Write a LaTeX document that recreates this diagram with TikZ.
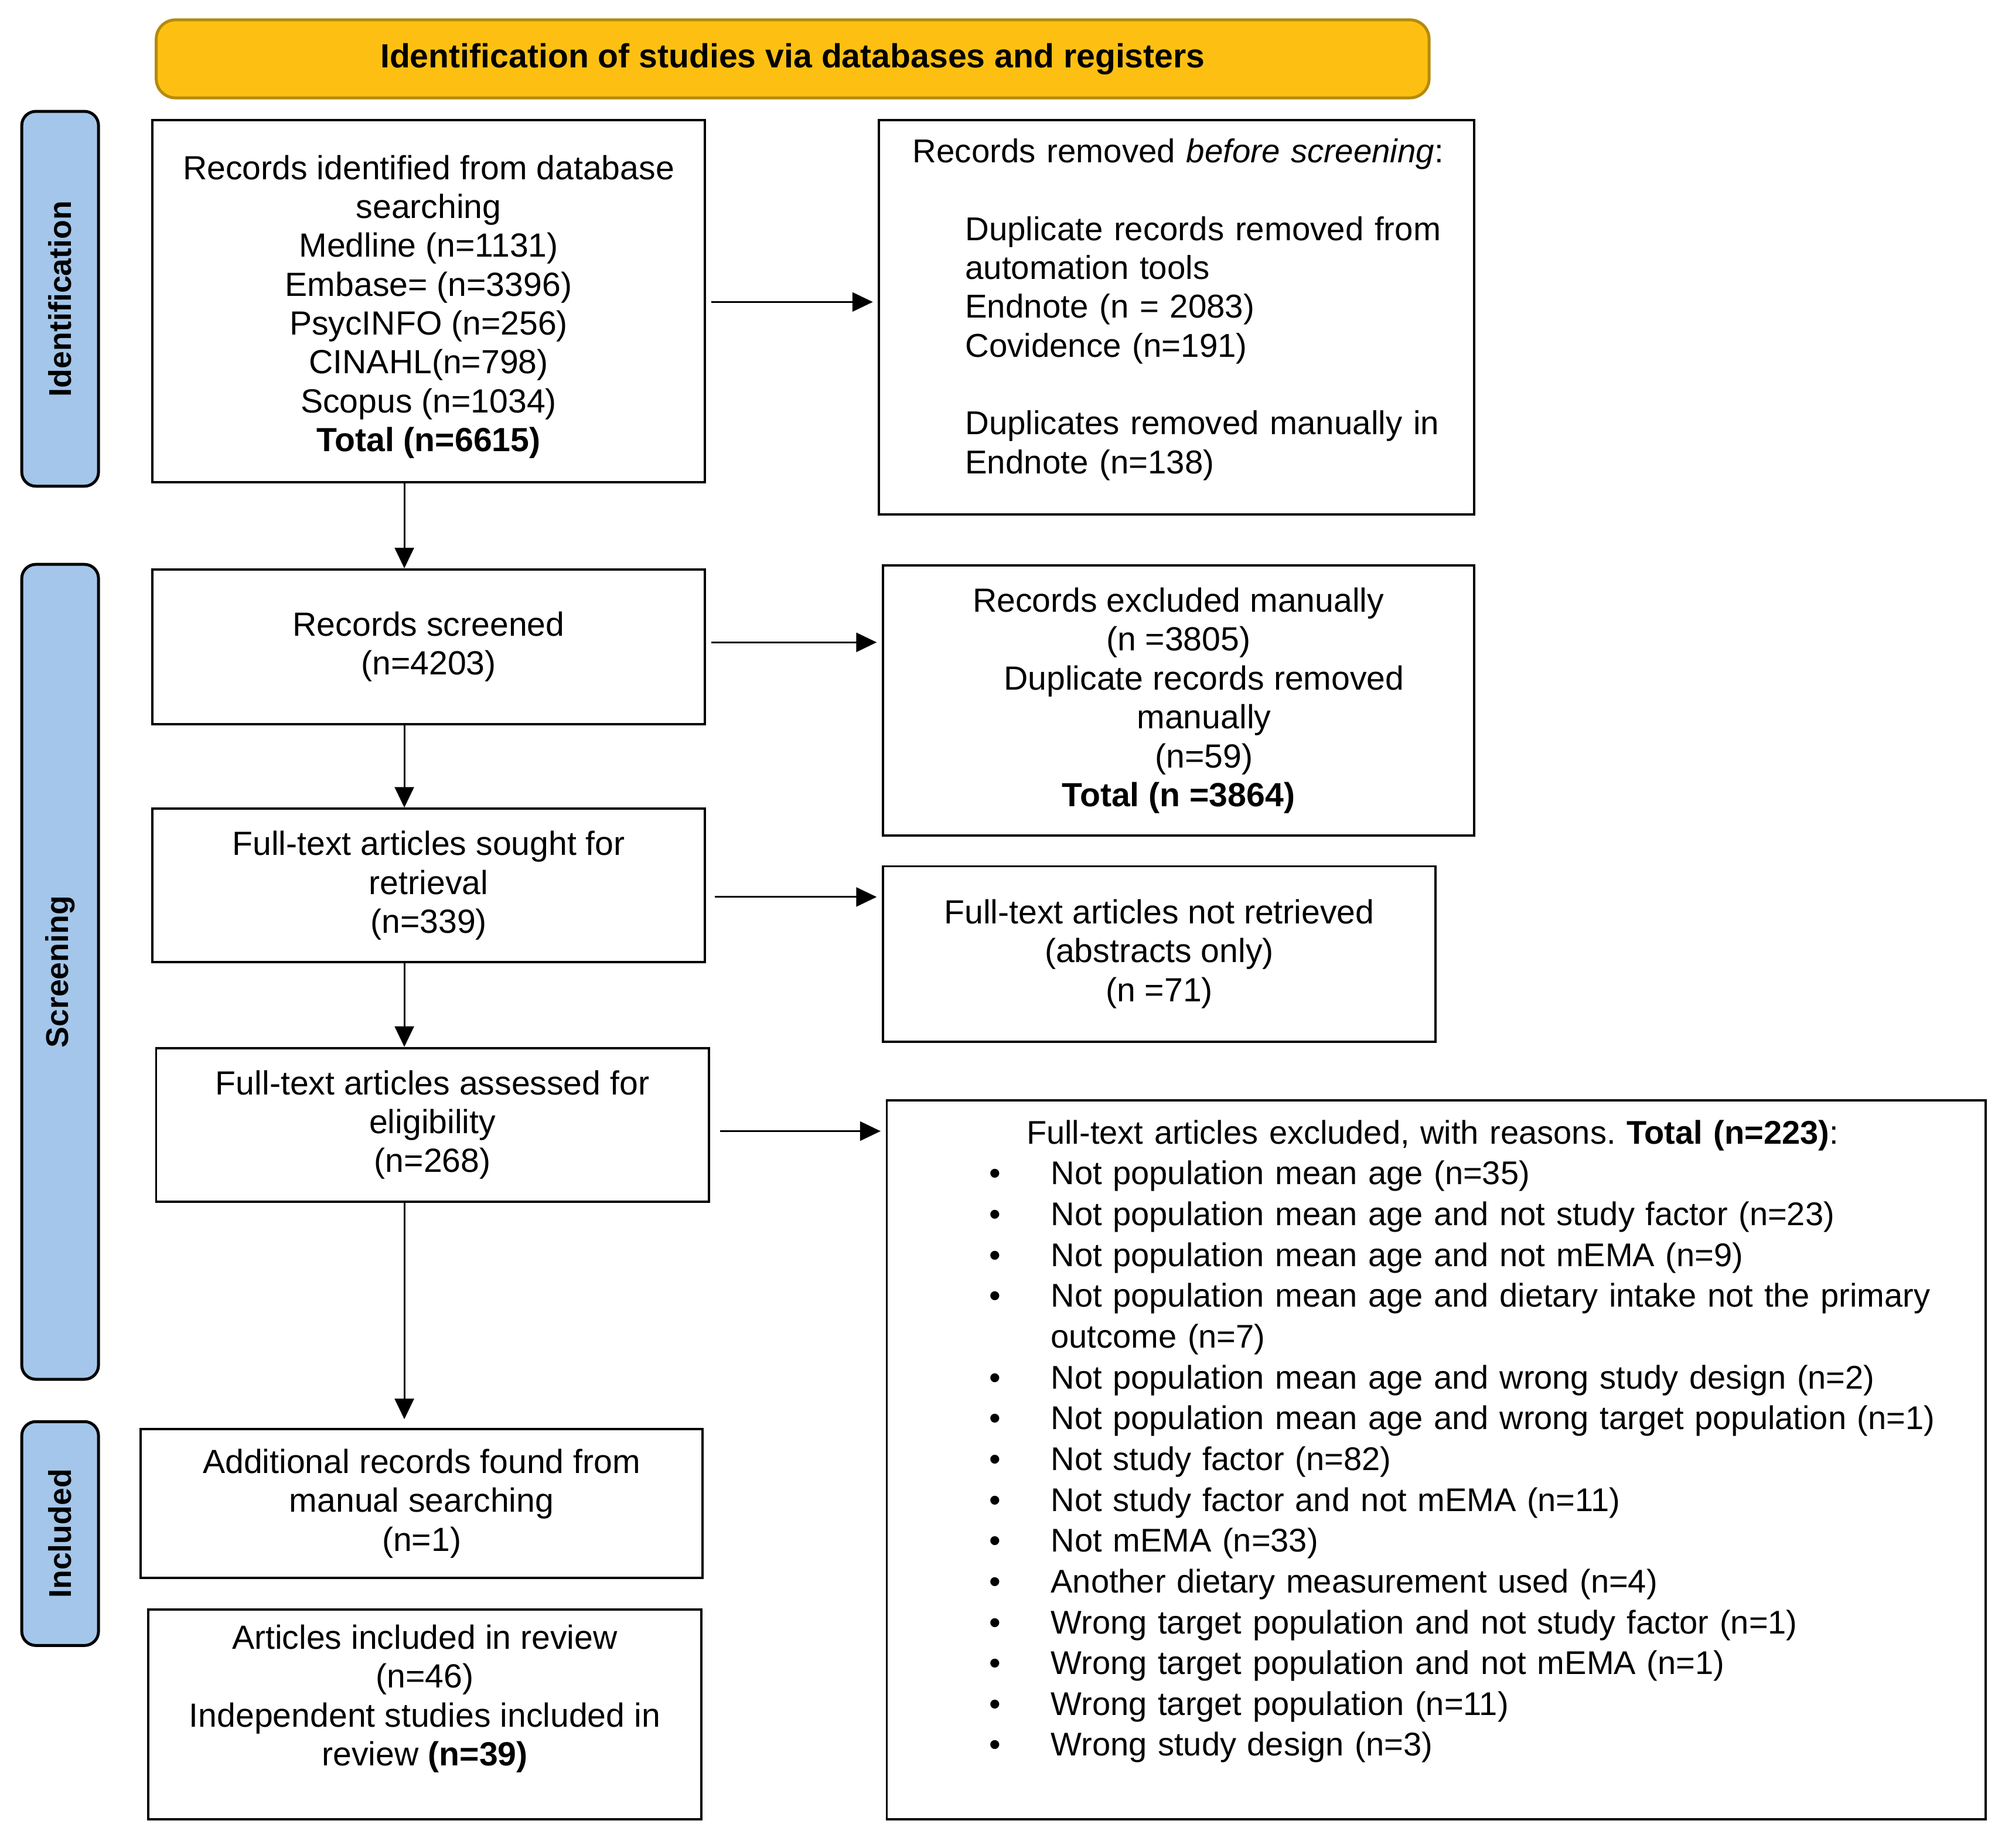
\documentclass[tikz,border=0pt]{standalone}
\usepackage{fontspec}
\setmainfont{Liberation Sans}
\usetikzlibrary{arrows.meta}
\definecolor{hdrfill}{HTML}{FDC012}
\definecolor{hdrdraw}{HTML}{B58A0C}
\definecolor{sidefill}{HTML}{A3C6EA}
\newcommand{\pbul}{\makebox[0.96cm][l]{\textbullet}}
\newcommand{\pind}{\hspace*{0.96cm}}
\frenchspacing
\begin{document}
\begin{tikzpicture}[x=0.02cm,y=-0.02cm,
  txt/.style={font=\fontsize{14.9pt}{17.3pt}\selectfont},
  box/.style={txt, draw, line width=1pt, align=center, inner sep=0pt},
  side/.style={draw, line width=1.3pt, fill=sidefill, rounded corners=0.22cm, inner sep=0pt,
               minimum height=1.2cm, rotate=90, font=\fontsize{14pt}{16pt}\selectfont\bfseries},
  arr/.style={line width=0.8pt, -{Triangle[length=0.32cm,width=0.3cm]}},
]
\useasboundingbox (0,0) rectangle (1567,1444);

% header
\node[draw=hdrdraw, fill=hdrfill, line width=1.3pt, rounded corners=0.3cm,
      minimum width=19.9cm, minimum height=1.22cm, inner sep=0pt,
      font=\fontsize{14.9pt}{17pt}\selectfont\bfseries] (hdr) at (619.5,46)
      {Identification of studies via databases and registers};

% side labels
\node[side, minimum width=5.86cm] (sid) at (47,233.5) {Identification};
\node[side, minimum width=12.74cm] (sscr) at (47,759.5) {Screening};
\node[side, minimum width=3.5cm] (sinc) at (47,1198.5) {Included};

% left column
\node[box, minimum width=8.64cm, minimum height=5.66cm] (b1) at (335,235.5)
  {\rule{0pt}{0.55cm}Records identified from database\\searching\\Medline (n=1131)\\Embase= (n=3396)\\PsycINFO (n=256)\\CINAHL(n=798)\\Scopus (n=1034)\\\textbf{Total (n=6615)}};
\node[box, minimum width=8.64cm, minimum height=2.42cm] (b2) at (335,505.5)
  {Records screened\\(n=4203)};
\node[box, minimum width=8.64cm, minimum height=2.4cm] (b3) at (335,692)
  {Full-text articles sought for\\retrieval\\(n=339)};
\node[box, minimum width=8.64cm, minimum height=2.4cm] (b4) at (338,879)
  {Full-text articles assessed for\\eligibility\\(n=268)};
\node[box, minimum width=8.78cm, minimum height=2.32cm] (b5) at (329.5,1175)
  {Additional records found from\\manual searching\\(n=1)};
\node[box, minimum width=8.64cm, minimum height=3.28cm] (b6) at (332,1340)
  {Articles included in review\\(n=46)\\Independent studies included in\\review \textbf{(n=39)}\\[0pt]~};

% right column
\node[box, minimum width=9.3cm, minimum height=6.16cm] (r1) at (919.5,248) {};
\node[txt, font=\fontsize{14.7pt}{17.3pt}\selectfont, anchor=base west, text width=8.58cm,
      align=left, inner sep=0pt] (r1t) at (713,127)
  {Records removed \textit{before screening}:\\[17.3pt]
   \hspace*{0.82cm}Duplicate records removed from\\
   \hspace*{0.82cm}automation tools\\
   \hspace*{0.82cm}Endnote (n = 2083)\\
   \hspace*{0.82cm}Covidence (n=191)\\[17.3pt]
   \hspace*{0.82cm}Duplicates removed manually in\\
   \hspace*{0.82cm}Endnote (n=138)};

\node[box, minimum width=9.24cm, minimum height=4.22cm] (r2) at (921,547.5)
  {Records excluded manually\\(n =3805)\\\hspace*{0.8cm}Duplicate records removed\\\hspace*{0.8cm}manually\\\hspace*{0.8cm}(n=59)\\\textbf{Total (n =3864)}};

\node[box, minimum width=8.64cm, minimum height=2.74cm] (r3) at (906,745.5)
  {Full-text articles not retrieved\\(abstracts only)\\(n =71)};

\node[box, minimum width=17.18cm, minimum height=11.24cm] (r4) at (1122.5,1141) {};
\node[txt, font=\fontsize{14.6pt}{18.15pt}\selectfont, anchor=base west, text width=15.4cm,
      align=left, inner sep=0pt] (r4t) at (773,894)
  {\hspace*{0.58cm}Full-text articles excluded, with reasons. \textbf{Total (n=223)}:\\
   \pbul Not population mean age (n=35)\\
   \pbul Not population mean age and not study factor (n=23)\\
   \pbul Not population mean age and not mEMA (n=9)\\
   \pbul Not population mean age and dietary intake not the primary\\
   \pind outcome (n=7)\\
   \pbul Not population mean age and wrong study design (n=2)\\
   \pbul Not population mean age and wrong target population (n=1)\\
   \pbul Not study factor (n=82)\\
   \pbul Not study factor and not mEMA (n=11)\\
   \pbul Not mEMA (n=33)\\
   \pbul Another dietary measurement used (n=4)\\
   \pbul Wrong target population and not study factor (n=1)\\
   \pbul Wrong target population and not mEMA (n=1)\\
   \pbul Wrong target population (n=11)\\
   \pbul Wrong study design (n=3)};

% connectors
\coordinate (vx) at (316,0);
\coordinate (h1) at (0,236);
\coordinate (h2) at (0,502);
\coordinate (h3) at (0,701);
\coordinate (h4) at (0,884);

\draw[arr] (b1.south -| vx) -- (b2.north -| vx);
\draw[arr] (b2.south -| vx) -- (b3.north -| vx);
\draw[arr] (b3.south -| vx) -- (b4.north -| vx);
\draw[arr, shorten >=0.14cm] (b4.south -| vx) -- (b5.north -| vx);

\draw[arr, shorten <=0.08cm, shorten >=0.08cm] (b1.east |- h1) -- (r1.west |- h1);
\draw[arr, shorten <=0.08cm, shorten >=0.08cm] (b2.east |- h2) -- (r2.west |- h2);
\draw[arr, shorten <=0.14cm, shorten >=0.08cm] (b3.east |- h3) -- (r3.west |- h3);
\draw[arr, shorten <=0.16cm, shorten >=0.08cm] (b4.east |- h4) -- (r4.west |- h4);
\end{tikzpicture}
\end{document}
